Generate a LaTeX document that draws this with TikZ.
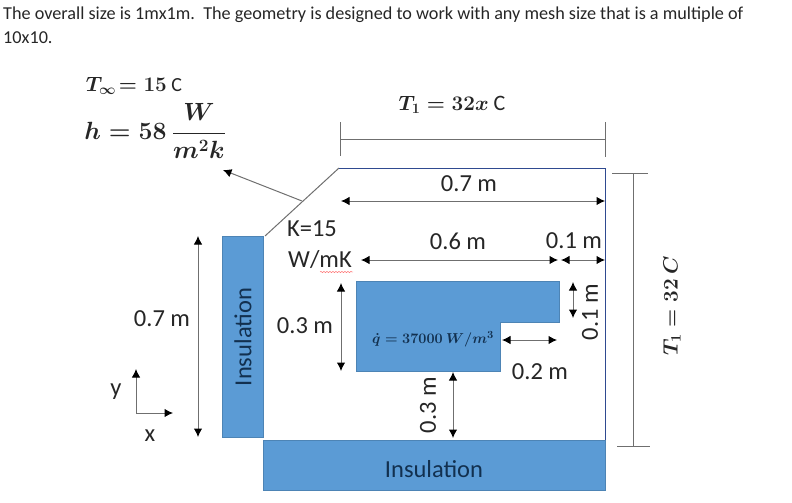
\documentclass[tikz,border=0pt]{standalone}
\usepackage{fontspec}
\setmainfont{Carlito}
\usepackage{amsmath}
\usetikzlibrary{arrows.meta,snakes}
\definecolor{insblue}{HTML}{5B9BD5}
\definecolor{insnavy}{HTML}{12304F}
\definecolor{wallnavy}{HTML}{2F4A90}
\definecolor{dimgrey}{HTML}{6F6F6F}
\definecolor{txtdark}{HTML}{262626}
\tikzset{
  dimarrow/.style={{Latex[black,length=8.5pt,width=8.5pt]}-{Latex[black,length=8.5pt,width=8.5pt]},draw=dimgrey,line width=1pt},
  onearrow/.style={-{Latex[black,length=8.5pt,width=8.5pt]},draw=dimgrey,line width=1pt},
  dimline/.style={draw=dimgrey,line width=1pt},
  wall/.style={draw=wallnavy,line width=1pt},
  insfill/.style={fill=insblue,draw=insblue!85!black,line width=0.4pt},
  lbl/.style={inner sep=0pt,text=txtdark,font=\fontsize{24.5}{28}\selectfont},
  mathlbl/.style={inner sep=0pt,text=txtdark,font=\fontsize{#1}{28}\selectfont\mathversion{bold}},
  para/.style={inner sep=0pt,anchor=base west,text=txtdark,font=\fontsize{18.2}{21}\selectfont},
}
\begin{document}
\begin{tikzpicture}[x=1pt,y=-1pt]
\useasboundingbox (0,0) rectangle (792,503);
\node (line1) at (3,20)[para] {The overall size is 1mx1m.\ \ The geometry is designed to work with any mesh size that is a multiple of};
\node (line2) at (3,44)[para] {10x10.};
\node (tinf) at (134,86)[mathlbl=20] {$T_\infty\!=15$ C};
\node (hcoef) at (155,131)[mathlbl=24] {$h=58\ \dfrac{W}{m^2k}$};
\node (ttop) at (452,105)[mathlbl=22] {$T_1=32x$ C};
\node (tright) at (672,306)[mathlbl=20.5,rotate=90] {$T_1=32\ C$};
\path[insfill] (222,236) -- (263,236) -- (263,437) -- (222,437) -- cycle;
\path[insfill] (263,440) -- (605,440) -- (605,490) -- (263,490) -- cycle;
\path[insfill] (356,281) -- (559,281) -- (559,322) -- (500,322) -- (500,371) -- (356,371) -- cycle;
\node (insleft) at (243,337)[lbl,rotate=90,text=insnavy] {Insulation};
\node (insbot) at (434,469)[lbl,text=insnavy] {Insulation};
\coordinate (cnrA) at (265,236);
\coordinate (cnrB) at (339,168);
\coordinate (cnrC) at (605,168);
\coordinate (cnrD) at (605,440);
\draw[dimline] (cnrA) -- (cnrB);
\draw[wall] (cnrB) -- (cnrC) -- (cnrD);
\coordinate (topL1) at (340,122);
\coordinate (topL2) at (340,156);
\coordinate (topR1) at (605,122);
\coordinate (topR2) at (605,157);
\coordinate (topLm) at (340,139);
\coordinate (topRm) at (605,139);
\draw[dimline] (topL1) -- (topL2);
\draw[dimline] (topR1) -- (topR2);
\draw[dimline] (topLm) -- (topRm);
\coordinate (rgtT1) at (612,173);
\coordinate (rgtT2) at (648,173);
\coordinate (rgtB1) at (617,446);
\coordinate (rgtB2) at (650,446);
\coordinate (rgtTm) at (633,173);
\coordinate (rgtBm) at (633,446);
\draw[dimline] (rgtT1) -- (rgtT2);
\draw[dimline] (rgtB1) -- (rgtB2);
\draw[dimline] (rgtTm) -- (rgtBm);
\coordinate (convA) at (302,201);
\coordinate (convB) at (223,170);
\draw[onearrow] (convA) -- (convB);
\coordinate (aL) at (341,201);
\coordinate (aR) at (605,201);
\draw[dimarrow] (aL) -- (aR);
\node (a07) at (469,184)[lbl] {0.7 m};
\coordinate (bL) at (361,260);
\coordinate (bR) at (558,260);
\draw[dimarrow] (bL) -- (bR);
\node (b06) at (458,241)[lbl] {0.6 m};
\coordinate (cL) at (561,260);
\coordinate (cR) at (605,260);
\draw[dimarrow] (cL) -- (cR);
\node (c01) at (574,241)[lbl] {0.1 m};
\node (kval) at (312,229)[lbl] {K=15};
\node (kunit) at (320,260)[lbl] {W/mK};
\coordinate (sqA) at (320,272);
\coordinate (sqB) at (353,272);
\draw[red!80,line width=0.4pt,snake=snake,segment length=3pt,segment amplitude=0.5pt] (sqA) -- (sqB);
\coordinate (dT) at (341,283);
\coordinate (dB) at (341,371);
\draw[dimarrow] (dT) -- (dB);
\node (d03) at (305,326)[lbl] {0.3 m};
\coordinate (eT) at (198,236);
\coordinate (eB) at (198,437);
\draw[dimarrow] (eT) -- (eB);
\node (e07) at (162,319)[lbl] {0.7 m};
\coordinate (org) at (136,413);
\coordinate (orgY) at (136,369);
\coordinate (orgX) at (173,413);
\draw[onearrow] (org) -- (orgY);
\draw[onearrow] (org) -- (orgX);
\node (ylab) at (116,392)[lbl] {y};
\node (xlab) at (150,436)[lbl] {x};
\coordinate (fT) at (573,282);
\coordinate (fB) at (573,318);
\draw[dimarrow] (fT) -- (fB);
\node (f01) at (590,312)[lbl,rotate=90] {0.1 m};
\coordinate (gL) at (502,340);
\coordinate (gR) at (557,340);
\draw[dimarrow] (gL) -- (gR);
\node (g02) at (540,372)[lbl] {0.2 m};
\coordinate (hT) at (453,372);
\coordinate (hB) at (453,438);
\draw[dimarrow] (hT) -- (hB);
\node (h03) at (428,405)[lbl,rotate=90] {0.3 m};
\node (qdot) at (433,339)[mathlbl=15,text=insnavy] {$\dot{q}=37000\ W/m^3$};
\end{tikzpicture}
\end{document}
